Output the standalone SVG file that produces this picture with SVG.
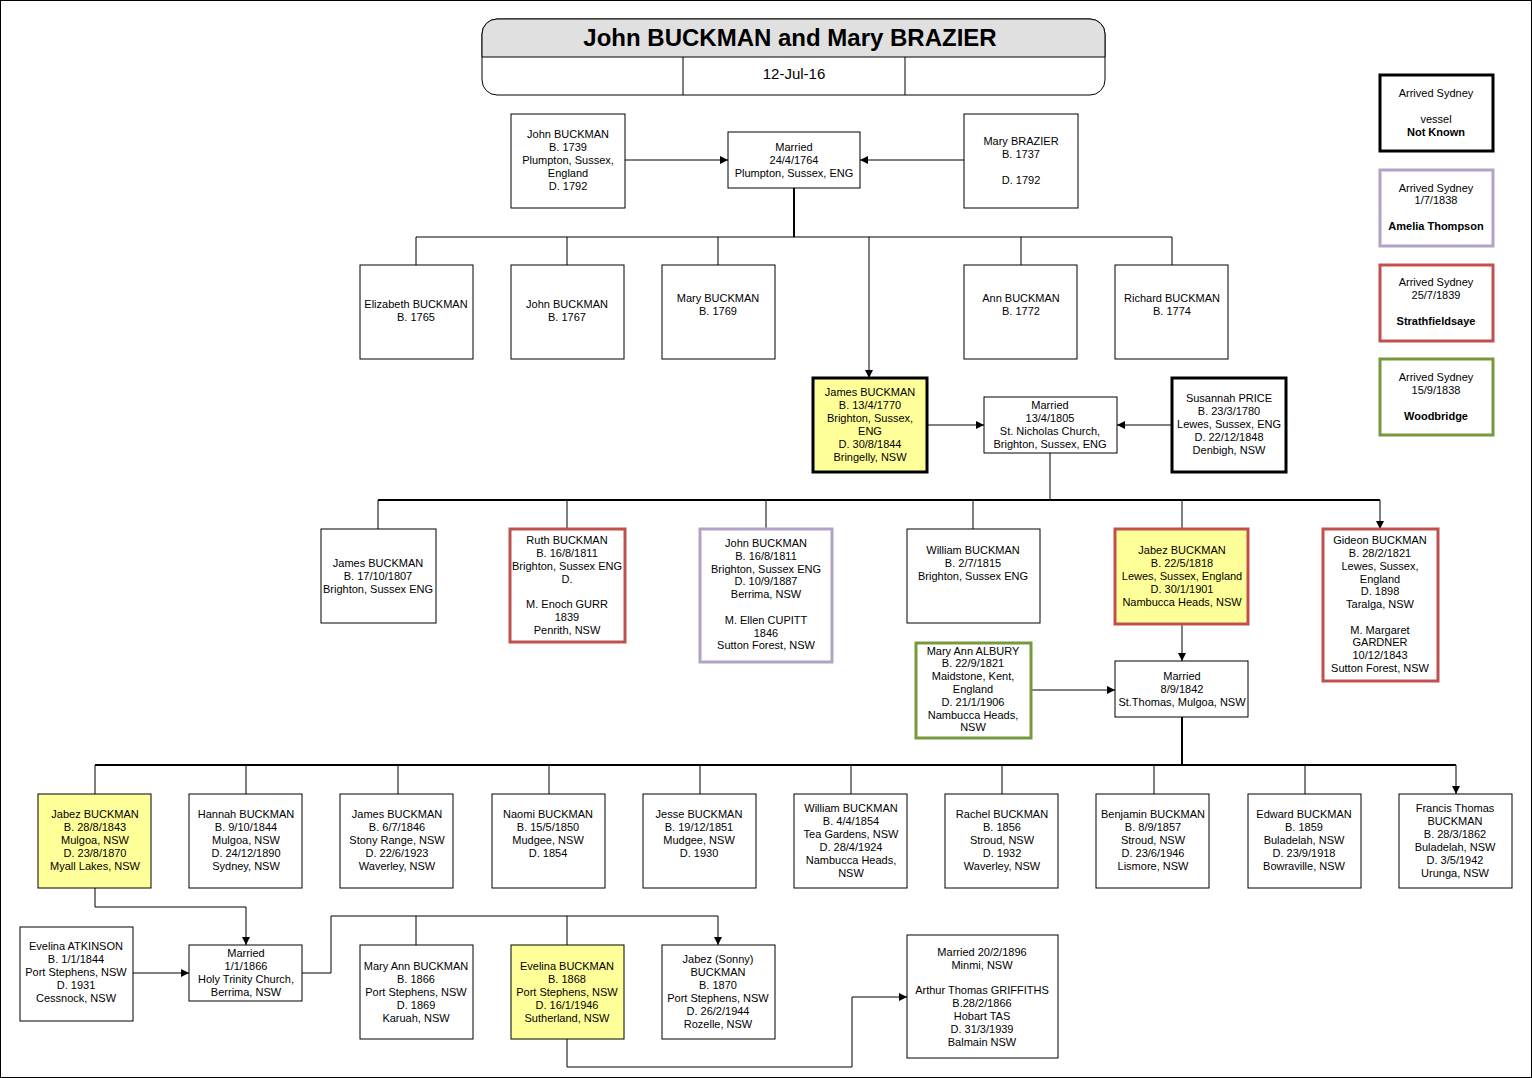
<svg xmlns="http://www.w3.org/2000/svg" width="1532" height="1078" viewBox="0 0 1532 1078">
<style>
text{font-family:"Liberation Sans",Arial,sans-serif;font-size:11px;fill:#000;text-anchor:middle;dominant-baseline:central}
.b{font-weight:bold}
.n{fill:#fff;stroke:#000;stroke-width:1}
.y{fill:#ffff99}
.k{stroke:#000;stroke-width:3}
.r{fill:#fff;stroke:#c0504d;stroke-width:3}
.p{fill:#fff;stroke:#b3a2c7;stroke-width:3}
.g{fill:#fff;stroke:#77993d;stroke-width:3}
.c path{fill:none;stroke:#000;stroke-width:1}
.c .t{stroke-width:2}
</style>
<defs><marker id="a" viewBox="0 0 10 10" refX="10" refY="5" markerWidth="8" markerHeight="8" markerUnits="userSpaceOnUse" orient="auto"><path d="M0,0L10,5L0,10z" fill="#000"/></marker></defs>
<rect x="0.5" y="0.5" width="1531" height="1077" fill="#fff" stroke="#000"/>
<g id="title">
<rect x="482" y="19" width="623" height="76" rx="15" fill="#fff" stroke="#000"/>
<path d="M482,57V34a15,15 0 0 1 15,-15H1090a15,15 0 0 1 15,15V57z" fill="#e0e0e0" stroke="#000"/>
<path d="M683,57V95M905,57V95" stroke="#000"/>
<text x="790" y="37" class="b" style="font-size:24px">John BUCKMAN and Mary BRAZIER</text>
<text x="794" y="73" style="font-size:15px">12-Jul-16</text>
</g>
<g class="c">
<path d="M625,160H728" marker-end="url(#a)"/>
<path d="M964,160H860" marker-end="url(#a)"/>
<path class="t" d="M794,188V237"/>
<path d="M416,237H1172"/>
<path d="M416,237V265M567,237V265M718,237V265M1021,237V265M1172,237V265M869,237V378" marker-end="url(#a)"/>
<path d="M927,425H984" marker-end="url(#a)"/>
<path d="M1172,425H1117" marker-end="url(#a)"/>
<path d="M1050,453V500"/>
<path class="t" d="M378,500H1380"/>
<path d="M378,500V529M567,500V529M766,500V529M973,500V529M1182,500V529M1380,500V529" marker-end="url(#a)"/>
<path d="M1182,624V661" marker-end="url(#a)"/>
<path d="M1031,690H1115" marker-end="url(#a)"/>
<path class="t" d="M1182,717V765"/>
<path class="t" d="M95,765H1456"/>
<path d="M95,765V794M246,765V794M398,765V794M549,765V794M700,765V794M851,765V794M1002,765V794M1154,765V794M1305,765V794M1456,765V794" marker-end="url(#a)"/>
<path d="M95,888V907H246V945" marker-end="url(#a)"/>
<path d="M133,973H189" marker-end="url(#a)"/>
<path d="M302,973H331V916H718"/>
<path d="M416,916V945M567,916V945M718,916V945" marker-end="url(#a)"/>
<path d="M567,1039V1067H852V997H907" marker-end="url(#a)"/>
</g>
<g id="john1739"><rect class="n" x="511" y="114" width="114" height="94"/><text x="568" y="134">John BUCKMAN</text><text x="568" y="147">B. 1739</text><text x="568" y="160">Plumpton, Sussex,</text><text x="568" y="173">England</text><text x="568" y="186">D. 1792</text></g>
<g id="m1764"><rect class="n" x="728" y="132" width="132" height="56"/><text x="794" y="147">Married</text><text x="794" y="160">24/4/1764</text><text x="794" y="173">Plumpton, Sussex, ENG</text></g>
<g id="mary1737"><rect class="n" x="964" y="114" width="114" height="94"/><text x="1021" y="141">Mary BRAZIER</text><text x="1021" y="154">B. 1737</text><text x="1021" y="180">D. 1792</text></g>
<g id="eliz"><rect class="n" x="360" y="265" width="113" height="94"/><text x="416" y="304">Elizabeth BUCKMAN</text><text x="416" y="317">B. 1765</text></g>
<g id="john1767"><rect class="n" x="511" y="265" width="113" height="94"/><text x="567" y="304">John BUCKMAN</text><text x="567" y="317">B. 1767</text></g>
<g id="mary1769"><rect class="n" x="662" y="265" width="113" height="94"/><text x="718" y="298">Mary BUCKMAN</text><text x="718" y="311">B. 1769</text></g>
<g id="ann"><rect class="n" x="964" y="265" width="113" height="94"/><text x="1021" y="298">Ann BUCKMAN</text><text x="1021" y="311">B. 1772</text></g>
<g id="richard"><rect class="n" x="1115" y="265" width="113" height="94"/><text x="1172" y="298">Richard BUCKMAN</text><text x="1172" y="311">B. 1774</text></g>
<g id="james1770"><rect class="y k" x="813" y="378" width="114" height="94"/><text x="870" y="392">James BUCKMAN</text><text x="870" y="405">B. 13/4/1770</text><text x="870" y="418">Brighton, Sussex,</text><text x="870" y="431">ENG</text><text x="870" y="444">D. 30/8/1844</text><text x="870" y="457">Bringelly, NSW</text></g>
<g id="m1805"><rect class="n" x="984" y="397" width="133" height="56"/><text x="1050" y="405">Married</text><text x="1050" y="418">13/4/1805</text><text x="1050" y="431">St. Nicholas Church,</text><text x="1050" y="444">Brighton, Sussex, ENG</text></g>
<g id="susannah"><rect class="n k" x="1172" y="378" width="114" height="94"/><text x="1229" y="398">Susannah PRICE</text><text x="1229" y="411">B. 23/3/1780</text><text x="1229" y="424">Lewes, Sussex, ENG</text><text x="1229" y="437">D. 22/12/1848</text><text x="1229" y="450">Denbigh, NSW</text></g>
<g id="james1807"><rect class="n" x="321" y="529" width="115" height="94"/><text x="378" y="563">James BUCKMAN</text><text x="378" y="576">B. 17/10/1807</text><text x="378" y="589">Brighton, Sussex ENG</text></g>
<g id="ruth"><rect class="r" x="510" y="529" width="115" height="113"/><text x="567" y="540">Ruth BUCKMAN</text><text x="567" y="553">B. 16/8/1811</text><text x="567" y="566">Brighton, Sussex ENG</text><text x="567" y="579">D.</text><text x="567" y="604">M. Enoch GURR</text><text x="567" y="617">1839</text><text x="567" y="630">Penrith, NSW</text></g>
<g id="john1811"><rect class="p" x="700" y="529" width="132" height="133"/><text x="766" y="543">John BUCKMAN</text><text x="766" y="556">B. 16/8/1811</text><text x="766" y="569">Brighton, Sussex ENG</text><text x="766" y="581">D. 10/9/1887</text><text x="766" y="594">Berrima, NSW</text><text x="766" y="620">M. Ellen CUPITT</text><text x="766" y="633">1846</text><text x="766" y="645">Sutton Forest, NSW</text></g>
<g id="william1815"><rect class="n" x="907" y="529" width="133" height="94"/><text x="973" y="550">William BUCKMAN</text><text x="973" y="563">B. 2/7/1815</text><text x="973" y="576">Brighton, Sussex ENG</text></g>
<g id="jabez1818"><rect class="y r" style="fill:#ffff99" x="1115" y="529" width="133" height="95"/><text x="1182" y="550">Jabez BUCKMAN</text><text x="1182" y="563">B. 22/5/1818</text><text x="1182" y="576">Lewes, Sussex, England</text><text x="1182" y="589">D. 30/1/1901</text><text x="1182" y="602">Nambucca Heads, NSW</text></g>
<g id="gideon"><rect class="r" x="1323" y="529" width="115" height="152"/><text x="1380" y="540">Gideon BUCKMAN</text><text x="1380" y="553">B. 28/2/1821</text><text x="1380" y="566">Lewes, Sussex,</text><text x="1380" y="579">England</text><text x="1380" y="591">D. 1898</text><text x="1380" y="604">Taralga, NSW</text><text x="1380" y="630">M. Margaret</text><text x="1380" y="642">GARDNER</text><text x="1380" y="655">10/12/1843</text><text x="1380" y="668">Sutton Forest, NSW</text></g>
<g id="maryann1821"><rect class="g" x="916" y="643" width="115" height="95"/><text x="973" y="651">Mary Ann ALBURY</text><text x="973" y="663">B. 22/9/1821</text><text x="973" y="676">Maidstone, Kent,</text><text x="973" y="689">England</text><text x="973" y="702">D. 21/1/1906</text><text x="973" y="715">Nambucca Heads,</text><text x="973" y="727">NSW</text></g>
<g id="m1842"><rect class="n" x="1115" y="661" width="133" height="56"/><text x="1182" y="676">Married</text><text x="1182" y="689">8/9/1842</text><text x="1182" y="702">St.Thomas, Mulgoa, NSW</text></g>
<g id="jabez1843"><rect class="n y" x="38" y="794" width="113" height="94"/><text x="95" y="814">Jabez BUCKMAN</text><text x="95" y="827">B. 28/8/1843</text><text x="95" y="840">Mulgoa, NSW</text><text x="95" y="853">D. 23/8/1870</text><text x="95" y="866">Myall Lakes, NSW</text></g>
<g id="hannah"><rect class="n" x="189" y="794" width="113" height="94"/><text x="246" y="814">Hannah BUCKMAN</text><text x="246" y="827">B. 9/10/1844</text><text x="246" y="840">Mulgoa, NSW</text><text x="246" y="853">D. 24/12/1890</text><text x="246" y="866">Sydney, NSW</text></g>
<g id="james1846"><rect class="n" x="340" y="794" width="113" height="94"/><text x="397" y="814">James BUCKMAN</text><text x="397" y="827">B. 6/7/1846</text><text x="397" y="840">Stony Range, NSW</text><text x="397" y="853">D. 22/6/1923</text><text x="397" y="866">Waverley, NSW</text></g>
<g id="naomi"><rect class="n" x="492" y="794" width="113" height="94"/><text x="548" y="814">Naomi BUCKMAN</text><text x="548" y="827">B. 15/5/1850</text><text x="548" y="840">Mudgee, NSW</text><text x="548" y="853">D. 1854</text></g>
<g id="jesse"><rect class="n" x="643" y="794" width="113" height="94"/><text x="699" y="814">Jesse BUCKMAN</text><text x="699" y="827">B. 19/12/1851</text><text x="699" y="840">Mudgee, NSW</text><text x="699" y="853">D. 1930</text></g>
<g id="william1854"><rect class="n" x="794" y="794" width="113" height="94"/><text x="851" y="808">William BUCKMAN</text><text x="851" y="821">B. 4/4/1854</text><text x="851" y="834">Tea Gardens, NSW</text><text x="851" y="847">D. 28/4/1924</text><text x="851" y="860">Nambucca Heads,</text><text x="851" y="873">NSW</text></g>
<g id="rachel"><rect class="n" x="945" y="794" width="113" height="94"/><text x="1002" y="814">Rachel BUCKMAN</text><text x="1002" y="827">B. 1856</text><text x="1002" y="840">Stroud, NSW</text><text x="1002" y="853">D. 1932</text><text x="1002" y="866">Waverley, NSW</text></g>
<g id="benjamin"><rect class="n" x="1096" y="794" width="113" height="94"/><text x="1153" y="814">Benjamin BUCKMAN</text><text x="1153" y="827">B. 8/9/1857</text><text x="1153" y="840">Stroud, NSW</text><text x="1153" y="853">D. 23/6/1946</text><text x="1153" y="866">Lismore, NSW</text></g>
<g id="edward"><rect class="n" x="1248" y="794" width="113" height="94"/><text x="1304" y="814">Edward BUCKMAN</text><text x="1304" y="827">B. 1859</text><text x="1304" y="840">Buladelah, NSW</text><text x="1304" y="853">D. 23/9/1918</text><text x="1304" y="866">Bowraville, NSW</text></g>
<g id="francis"><rect class="n" x="1399" y="794" width="113" height="94"/><text x="1455" y="808">Francis Thomas</text><text x="1455" y="821">BUCKMAN</text><text x="1455" y="834">B. 28/3/1862</text><text x="1455" y="847">Buladelah, NSW</text><text x="1455" y="860">D. 3/5/1942</text><text x="1455" y="873">Urunga, NSW</text></g>
<g id="evelina1844"><rect class="n" x="20" y="927" width="113" height="94"/><text x="76" y="946">Evelina ATKINSON</text><text x="76" y="959">B. 1/1/1844</text><text x="76" y="972">Port Stephens, NSW</text><text x="76" y="985">D. 1931</text><text x="76" y="998">Cessnock, NSW</text></g>
<g id="m1866"><rect class="n" x="189" y="945" width="113" height="56"/><text x="246" y="953">Married</text><text x="246" y="966">1/1/1866</text><text x="246" y="979">Holy Trinity Church,</text><text x="246" y="992">Berrima, NSW</text></g>
<g id="maryann1866"><rect class="n" x="360" y="945" width="113" height="94"/><text x="416" y="966">Mary Ann BUCKMAN</text><text x="416" y="979">B. 1866</text><text x="416" y="992">Port Stephens, NSW</text><text x="416" y="1005">D. 1869</text><text x="416" y="1018">Karuah, NSW</text></g>
<g id="evelina1868"><rect class="n y" x="511" y="945" width="113" height="94"/><text x="567" y="966">Evelina BUCKMAN</text><text x="567" y="979">B. 1868</text><text x="567" y="992">Port Stephens, NSW</text><text x="567" y="1005">D. 16/1/1946</text><text x="567" y="1018">Sutherland, NSW</text></g>
<g id="jabez1870"><rect class="n" x="662" y="945" width="113" height="94"/><text x="718" y="959">Jabez (Sonny)</text><text x="718" y="972">BUCKMAN</text><text x="718" y="985">B. 1870</text><text x="718" y="998">Port Stephens, NSW</text><text x="718" y="1011">D. 26/2/1944</text><text x="718" y="1024">Rozelle, NSW</text></g>
<g id="m1896"><rect class="n" x="907" y="935" width="151" height="123"/><text x="982" y="952">Married 20/2/1896</text><text x="982" y="965">Minmi, NSW</text><text x="982" y="990">Arthur Thomas GRIFFITHS</text><text x="982" y="1003">B.28/2/1866</text><text x="982" y="1016">Hobart TAS</text><text x="982" y="1029">D. 31/3/1939</text><text x="982" y="1042">Balmain NSW</text></g>
<g id="legend1"><rect class="n k" x="1380" y="75" width="113" height="76"/><text x="1436" y="93">Arrived Sydney</text><text x="1436" y="119">vessel</text><text x="1436" y="132" class="b">Not Known</text></g>
<g id="legend2"><rect class="p" x="1380" y="170" width="113" height="76"/><text x="1436" y="188">Arrived Sydney</text><text x="1436" y="200">1/7/1838</text><text x="1436" y="226" class="b">Amelia Thompson</text></g>
<g id="legend3"><rect class="r" x="1380" y="265" width="113" height="76"/><text x="1436" y="282">Arrived Sydney</text><text x="1436" y="295">25/7/1839</text><text x="1436" y="321" class="b">Strathfieldsaye</text></g>
<g id="legend4"><rect class="g" x="1380" y="359" width="113" height="76"/><text x="1436" y="377">Arrived Sydney</text><text x="1436" y="390">15/9/1838</text><text x="1436" y="416" class="b">Woodbridge</text></g>
</svg>
